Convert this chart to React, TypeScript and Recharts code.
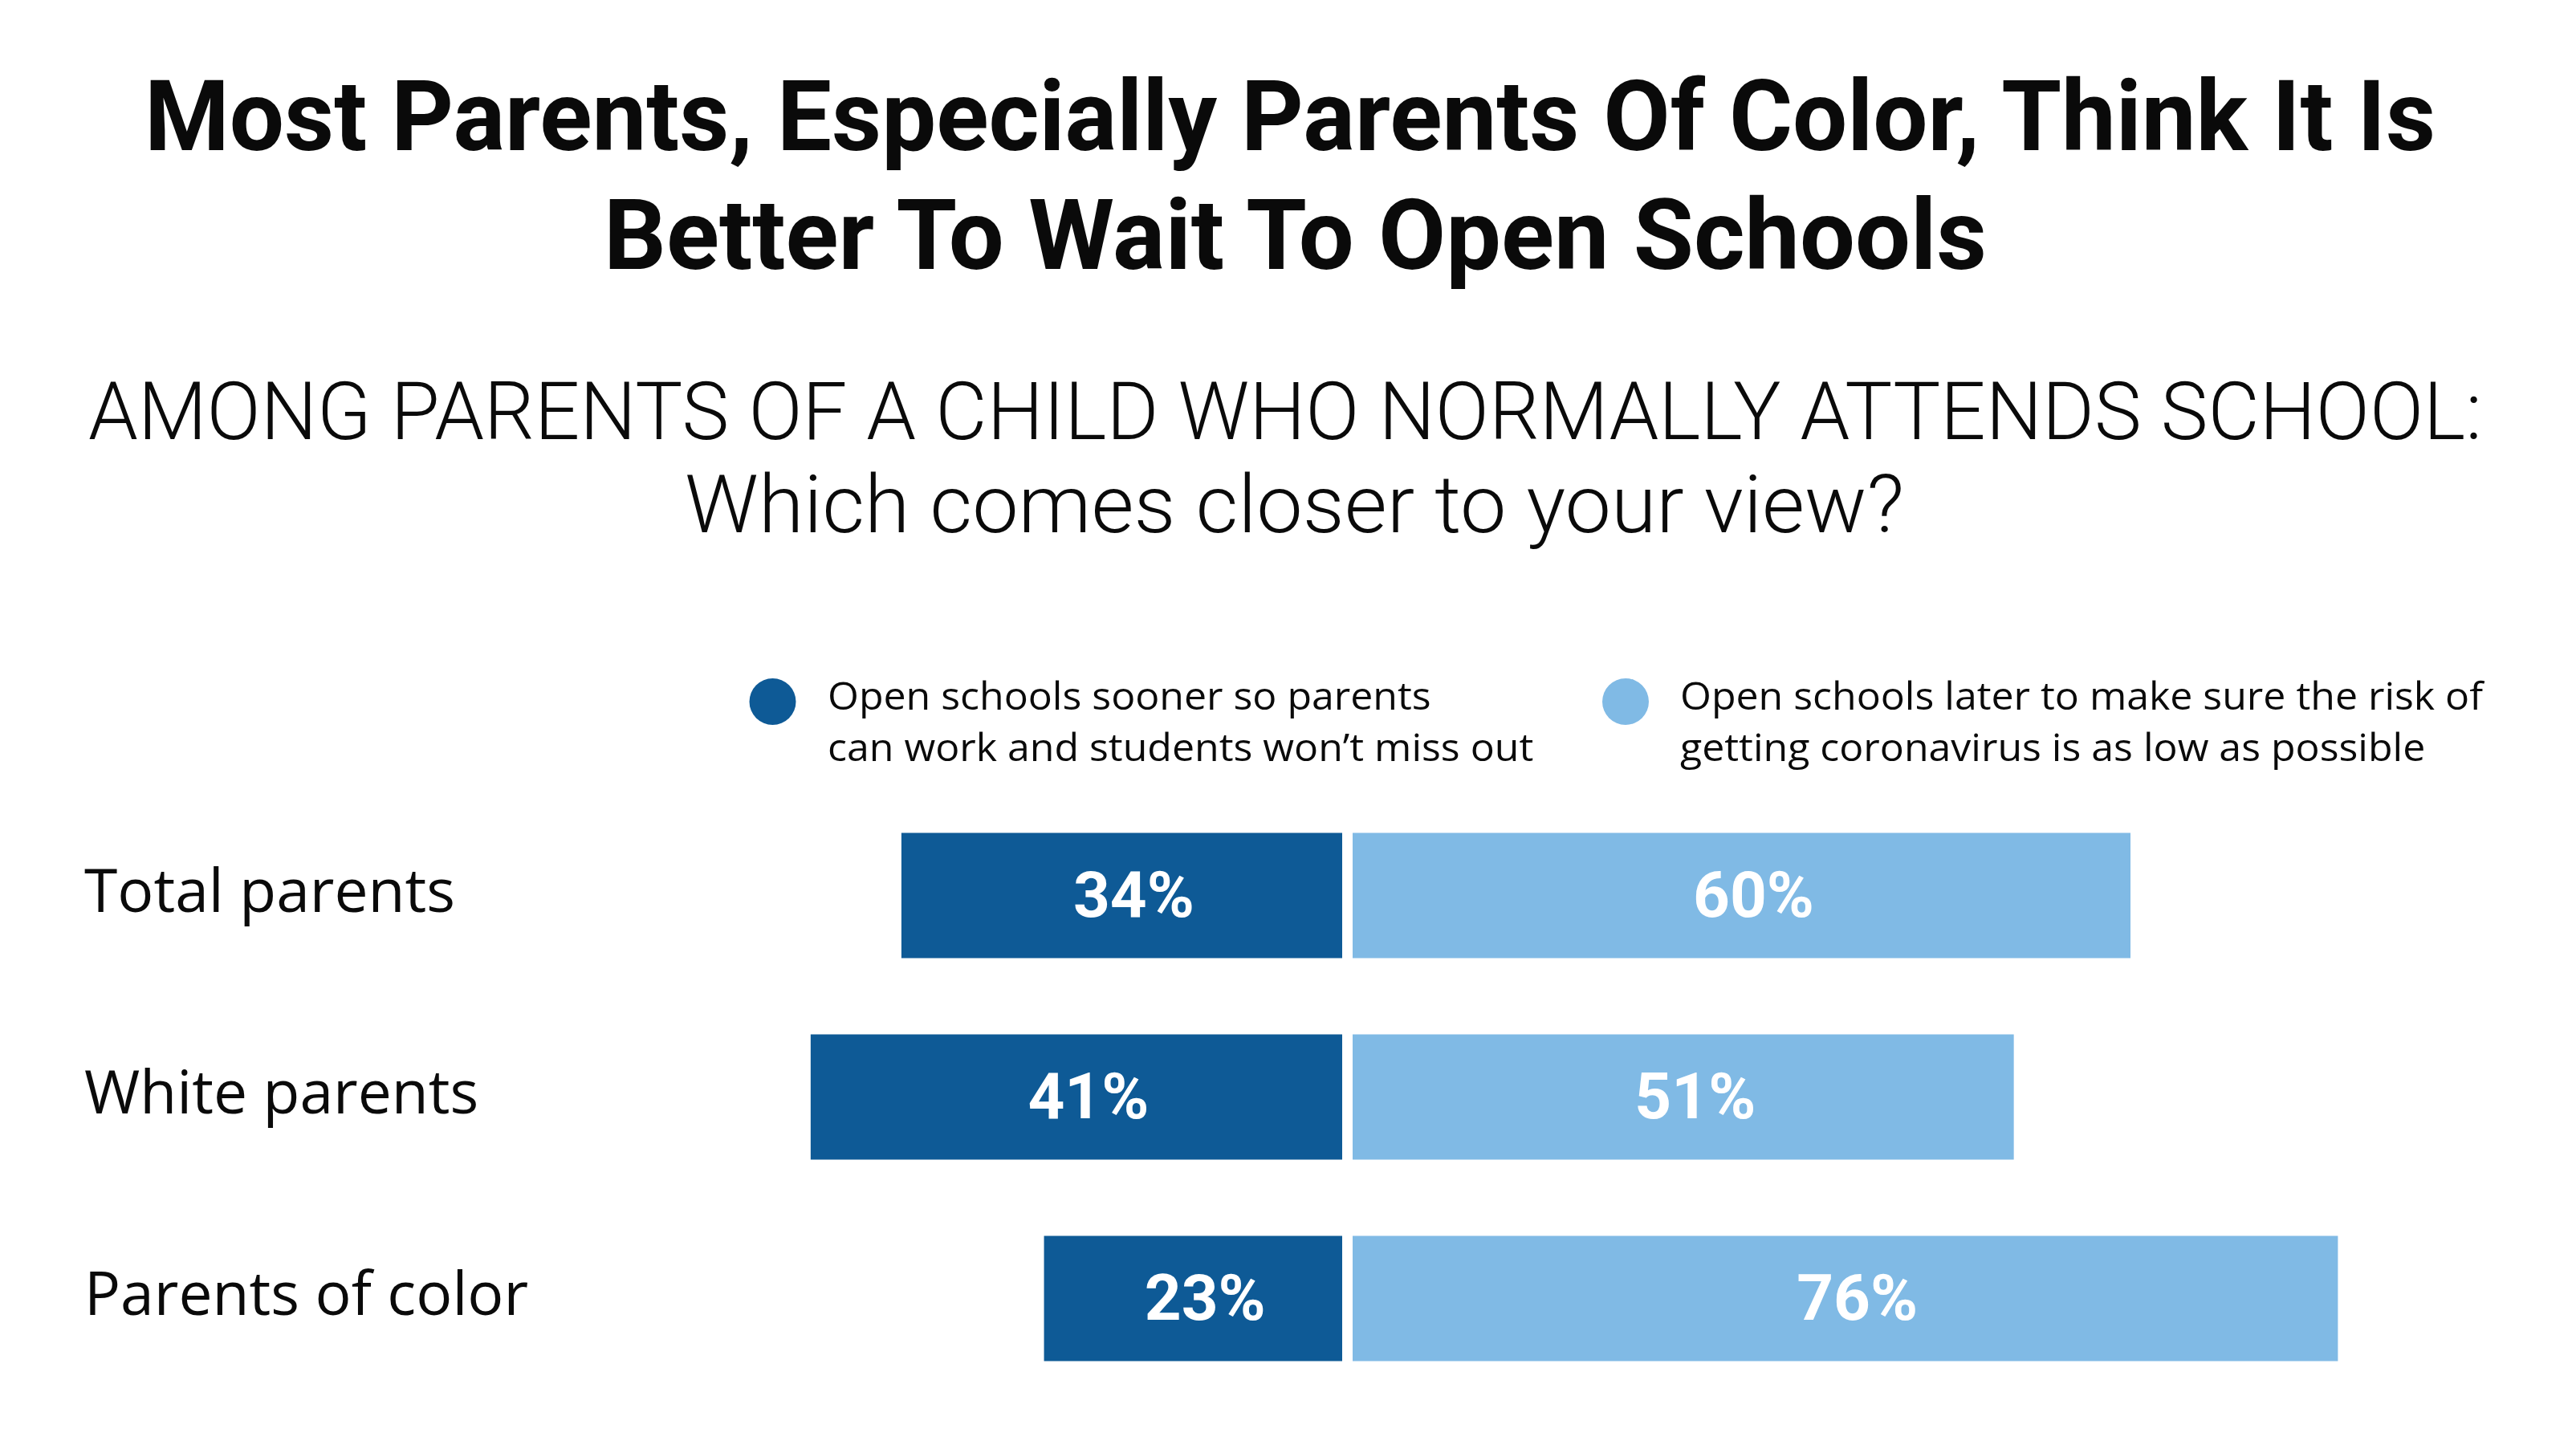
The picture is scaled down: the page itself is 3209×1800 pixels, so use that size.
import React from 'react';
import { BarChart, Bar, XAxis, YAxis, LabelList } from 'recharts';

// ---- data ----
const categories = ['Total parents', 'White parents', 'Parents of color'];
const soonerValues = [34, 41, 23];
const laterValues = [60, 51, 76];
const seriesKeys = ['sooner', 'later'];
const legendLines = [
  ['Open schools sooner so parents', 'can work and students won\u2019t miss out'],
  ['Open schools later to make sure the risk of', 'getting coronavirus is as low as possible'],
];
const titleLines = ['Most Parents, Especially Parents Of Color, Think It Is', 'Better To Wait To Open Schools'];
const subtitleLines = ['AMONG PARENTS OF A CHILD WHO NORMALLY ATTENDS SCHOOL:', 'Which comes closer to your view?'];

const DARK = '#0E5A96';
const LIGHT = '#80BAE5';
const INK = '#0a0a0a';
const GAP = 6.5;

const data = categories.map((c, i) => ({
  category: c,
  sooner: -soonerValues[i],
  later: laterValues[i],
}));

const norm = (x: number, width: number) => ({ x0: Math.min(x, x + width), w: Math.abs(width) });

const makeShape = (dir: number) => (props: any) => {
  const { x, y, width, height, fill } = props;
  const { x0, w } = norm(Number(x), Number(width));
  return <rect x={x0 + dir * GAP} y={y} width={w} height={height} fill={fill} />;
};

const makeLabel = (dir: number) => (props: any) => {
  const { x, y, width, height, value } = props;
  const { x0, w } = norm(Number(x), Number(width));
  const cx = x0 + w / 2 + dir * GAP + 15;
  return (
    <text
      x={cx}
      y={Number(y) + Number(height) / 2 + 26}
      textAnchor="middle"
      fill="#ffffff"
      fontFamily="Roboto"
      fontWeight={700}
      fontSize={80}
    >
      {Math.abs(Number(value))}%
    </text>
  );
};

const CategoryTick = (props: any) => {
  const { y, payload } = props;
  return (
    <text x={105} y={Number(y) + 21} textAnchor="start" fill={INK} fontFamily="Open Sans" fontSize={75}>
      {payload.value}
    </text>
  );
};

const LegendBlock = ({ left, lines }: { left: number; lines: string[] }) => (
  <div
    style={{
      position: 'absolute',
      left,
      top: 833.5,
      fontFamily: '"Open Sans"',
      fontSize: 47,
      lineHeight: '64.5px',
      color: INK,
      whiteSpace: 'nowrap',
      transform: 'scaleX(1.064)',
      transformOrigin: 'left top',
    }}
  >
    {lines[0]}
    <br />
    {lines[1]}
  </div>
);

export default function App() {
  return (
    <div style={{ position: 'absolute', left: 0, top: 0, width: 3209, height: 1800, background: '#ffffff', overflow: 'hidden' }}>
      <BarChart
        width={3209}
        height={1800}
        data={data}
        layout="vertical"
        stackOffset="sign"
        barSize={156}
        margin={{ top: 989.5, right: 77, bottom: 57.5, left: 105 }}
      >
        <XAxis type="number" hide domain={[-50, 90]} allowDataOverflow />
        <YAxis
          type="category"
          dataKey="category"
          width={766}
          axisLine={false}
          tickLine={false}
          tick={<CategoryTick />}
        />
        <Bar dataKey={seriesKeys[0]} stackId="a" fill={DARK} shape={makeShape(-1)} isAnimationActive={false}>
          <LabelList dataKey={seriesKeys[0]} content={makeLabel(-1)} />
        </Bar>
        <Bar dataKey={seriesKeys[1]} stackId="a" fill={LIGHT} shape={makeShape(1)} isAnimationActive={false}>
          <LabelList dataKey={seriesKeys[1]} content={makeLabel(1)} />
        </Bar>
      </BarChart>
      <svg width={3209} height={1000} style={{ position: 'absolute', left: 0, top: 0, pointerEvents: 'none' }}>
        <text x={180} y={187} fontFamily="Roboto" fontWeight={700} fontSize={122} fill={INK} textLength={2854} lengthAdjust="spacingAndGlyphs">
          {titleLines[0]}
        </text>
        <text x={752} y={335} fontFamily="Roboto" fontWeight={700} fontSize={122} fill={INK} textLength={1723} lengthAdjust="spacingAndGlyphs">
          {titleLines[1]}
        </text>
        <text x={110} y={547} fontFamily="Roboto" fontWeight={300} fontSize={101} fill={INK} textLength={2982} lengthAdjust="spacingAndGlyphs">
          {subtitleLines[0]}
        </text>
        <text x={853} y={663} fontFamily="Roboto" fontWeight={300} fontSize={101} fill={INK} textLength={1519} lengthAdjust="spacingAndGlyphs">
          {subtitleLines[1]}
        </text>
        <circle cx={962.5} cy={874} r={29} fill={DARK} />
        <circle cx={2025} cy={874} r={29} fill={LIGHT} />
      </svg>
      <LegendBlock left={1031} lines={legendLines[0]} />
      <LegendBlock left={2093} lines={legendLines[1]} />
    </div>
  );
}
